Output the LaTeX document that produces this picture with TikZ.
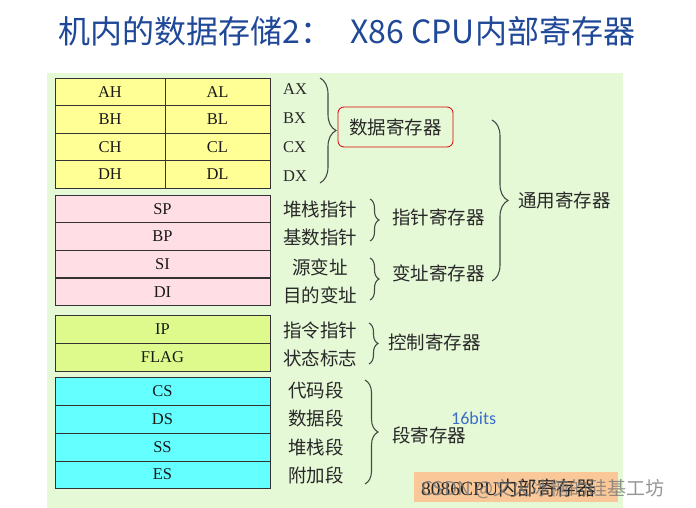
\documentclass[tikz,border=0pt]{standalone}
\usepackage{fontspec}
\setmainfont{Liberation Serif}
\newfontfamily\cjk{Noto Sans CJK SC}
\newfontfamily\carl{Carlito}
\usetikzlibrary{decorations.pathreplacing}
\definecolor{panelbg}{RGB}{230,249,215}
\definecolor{titleblue}{RGB}{32,72,152}
\definecolor{regyellow}{RGB}{255,255,150}
\definecolor{regpink}{RGB}{255,222,230}
\definecolor{reggreen}{RGB}{222,250,140}
\definecolor{regcyan}{RGB}{100,255,255}
\definecolor{boxorange}{RGB}{250,200,152}
\definecolor{bitsblue}{RGB}{60,110,200}
\definecolor{labelgray}{RGB}{40,40,40}
\definecolor{bracegray}{RGB}{70,75,70}
\tikzset{
  reg/.style={draw=black!80, line width=0.9pt, inner sep=0pt, minimum height=27.5pt,
    font=\fontsize{16.5}{16.5}\selectfont, text=black!90},
  xlab/.style={anchor=west, inner sep=0pt, font=\fontsize{16.5}{16.5}\selectfont, text=labelgray},
  cnlab/.style={anchor=west, inner sep=0pt, font=\cjk\fontsize{18.5}{18.5}\selectfont, text=labelgray},
  bracestyle/.style={draw=bracegray, line width=1.1pt, decorate, decoration={brace, amplitude=#1}},
}
\begin{document}
\begin{tikzpicture}[x=1pt,y=-1pt]
\useasboundingbox (0,0) rectangle (696,508);
\fill[white] (0,0) rectangle (696,508);
\fill[panelbg] (47,73) rectangle (623,508);

% title
\node[inner sep=0pt, text=titleblue, font=\cjk\fontsize{32}{32}\selectfont] (title) at (347,31)
  {机内的数据存储2：\hspace{0.55em}X86 CPU内部寄存器};

% yellow group
\node[reg, fill=regyellow, minimum width=110pt] (ah) at (110,91.75) {AH};
\node[reg, fill=regyellow, minimum width=105pt] (al) at (217.5,91.75) {AL};
\node[reg, fill=regyellow, minimum width=110pt] (bh) at (110,119.25) {BH};
\node[reg, fill=regyellow, minimum width=105pt] (bl) at (217.5,119.25) {BL};
\node[reg, fill=regyellow, minimum width=110pt] (ch) at (110,146.75) {CH};
\node[reg, fill=regyellow, minimum width=105pt] (cl) at (217.5,146.75) {CL};
\node[reg, fill=regyellow, minimum width=110pt] (dh) at (110,174.25) {DH};
\node[reg, fill=regyellow, minimum width=105pt] (dl) at (217.5,174.25) {DL};

% pink group
\node[reg, fill=regpink, minimum width=215pt] (sp) at (162.5,208.75) {SP};
\node[reg, fill=regpink, minimum width=215pt] (bp) at (162.5,236.25) {BP};
\node[reg, fill=regpink, minimum width=215pt] (si) at (162.5,264) {SI};
\node[reg, fill=regpink, minimum width=215pt] (di) at (162.5,292) {DI};

% green group
\node[reg, fill=reggreen, minimum width=215pt, minimum height=28pt] (ip) at (162.5,329) {IP};
\node[reg, fill=reggreen, minimum width=215pt, minimum height=28pt] (flag) at (162.5,357) {FLAG};

% cyan group
\node[reg, fill=regcyan, minimum width=215pt, minimum height=28pt] (cs) at (162.5,391) {CS};
\node[reg, fill=regcyan, minimum width=215pt, minimum height=28pt] (ds) at (162.5,419) {DS};
\node[reg, fill=regcyan, minimum width=215pt, minimum height=28pt] (ss) at (162.5,447) {SS};
\node[reg, fill=regcyan, minimum width=215pt, minimum height=27pt] (es) at (162.5,474.5) {ES};

% X labels
\node[xlab] (ax) at (283,89) {AX};
\node[xlab] (bx) at (283,118) {BX};
\node[xlab] (cx) at (283,147) {CX};
\node[xlab] (dx) at (283,176) {DX};

% Chinese labels
\node[cnlab] (stkptr) at (283,209) {堆栈指针};
\node[cnlab] (baseptr) at (283,237) {基数指针};
\node[cnlab] (srcidx) at (292,267) {源变址};
\node[cnlab] (dstidx) at (283,295) {目的变址};
\node[cnlab] (insptr) at (283,330) {指令指针};
\node[cnlab] (stflag) at (283,358) {状态标志};
\node[cnlab] (codeseg) at (288,390) {代码段};
\node[cnlab] (dataseg) at (288,418) {数据段};
\node[cnlab] (stkseg) at (288,447) {堆栈段};
\node[cnlab] (extseg) at (288,475) {附加段};

% braces
\coordinate (b1t) at (320,78);  \coordinate (b1b) at (320,183);
\draw[bracestyle=16] (b1t) -- (b1b);
\coordinate (b2t) at (370,199); \coordinate (b2b) at (370,241);
\draw[bracestyle=9] (b2t) -- (b2b);
\coordinate (b3t) at (370,258); \coordinate (b3b) at (370,300);
\draw[bracestyle=9] (b3t) -- (b3b);
\coordinate (b4t) at (492,120); \coordinate (b4b) at (492,281);
\draw[bracestyle=16] (b4t) -- (b4b);
\coordinate (b5t) at (369,323); \coordinate (b5b) at (369,364);
\draw[bracestyle=9] (b5t) -- (b5b);
\coordinate (b6t) at (365,380); \coordinate (b6b) at (365,484);
\draw[bracestyle=13] (b6t) -- (b6b);

% group labels
\node[draw=red!85!black, line width=0.8pt, rounded corners=6pt, fill=none,
  minimum width=115pt, minimum height=40pt, inner sep=0pt,
  font=\cjk\fontsize{18.5}{18.5}\selectfont, text=labelgray] (datareg) at (395.5,127) {数据寄存器};
\node[cnlab] (ptrreg) at (392,217) {指针寄存器};
\node[cnlab] (idxreg) at (392,273) {变址寄存器};
\node[cnlab] (genreg) at (518,200) {通用寄存器};
\node[cnlab] (ctlreg) at (388,342) {控制寄存器};
\node[cnlab] (segreg) at (392,435) {段寄存器};

% 16bits
\node[anchor=west, inner sep=0pt, text=bitsblue, font=\carl\fontsize{18}{18}\selectfont] (bits) at (451,418) {16bits};

% bottom caption box
\fill[boxorange] (414,472) rectangle (618,502);
\node[anchor=west, inner sep=0pt, text=black!85, font=\fontsize{19.5}{19.5}\selectfont] (cap) at (421,488)
  {8086CPU{\cjk 内部寄存器}};
\node[anchor=west, inner sep=0pt, text=black!55, opacity=0.75, font=\cjk\fontsize{19}{19}\selectfont] (wm) at (421,489)
  {CSDN @文火冰糖的硅基工坊};
\end{tikzpicture}
\end{document}
